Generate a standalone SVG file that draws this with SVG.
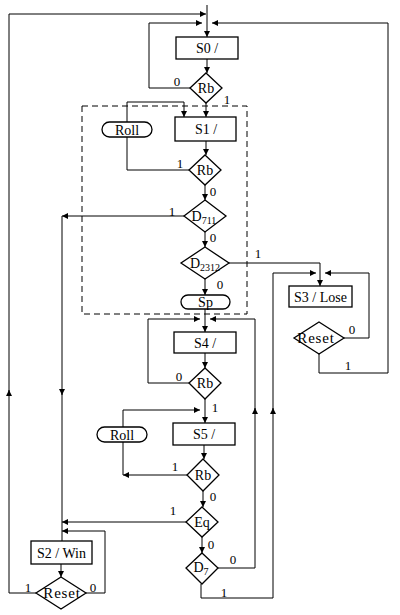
<svg xmlns="http://www.w3.org/2000/svg" width="400" height="615" viewBox="0 0 400 615">
<style>
.bg{fill:#fff}
.n{fill:#fff;stroke:#000;stroke-width:1.3}
.c{fill:none;stroke:#000;stroke-width:1}
.t{font-family:"Liberation Serif","Times New Roman",serif;font-size:14px;fill:#000;text-anchor:middle}
.r{font-size:15px;letter-spacing:0.8px}
.l{font-family:"Liberation Serif","Times New Roman",serif;font-size:13px;fill:#000;text-anchor:middle}
.s{font-size:10px}
.d{fill:none;stroke:#000;stroke-width:1;stroke-dasharray:6,4}
</style>
<defs>
<marker id="a" markerWidth="6" markerHeight="6" refX="6" refY="3" orient="auto" markerUnits="userSpaceOnUse">
<path d="M0,0 L6,3 L0,6 z" fill="#000"/>
</marker>
</defs>
<rect class="bg" x="0" y="0" width="400" height="615"/>
<rect class="d" x="82" y="106" width="165" height="208"/>
<g id="connectors" class="c">
<path d="M36,593 H9 V390" marker-end="url(#a)"/>
<path d="M9,392 V14 H206" marker-end="url(#a)"/>
<path d="M207,5 V37" marker-end="url(#a)"/>
<path d="M190,88 H149 V23 H202" marker-end="url(#a)"/>
<path d="M319,354 V373 H388 V23 H212" marker-end="url(#a)"/>
<path d="M207,59 V73" marker-end="url(#a)"/>
<path d="M206,103 V117" marker-end="url(#a)"/>
<path d="M189,170 H127 V137"/>
<path d="M127,122 V102 H184 V117" marker-end="url(#a)"/>
<path d="M206,141 V155" marker-end="url(#a)"/>
<path d="M205,185 V200" marker-end="url(#a)"/>
<path d="M184,216 H62" marker-end="url(#a)"/>
<path d="M62,216 V395" marker-end="url(#a)"/>
<path d="M62,393 V541"/>
<path d="M205,232 V247" marker-end="url(#a)"/>
<path d="M229,263 H320 V286" marker-end="url(#a)"/>
<path d="M344,338 H369 V273 H325" marker-end="url(#a)"/>
<path d="M201,584 V598 H273 V408" marker-end="url(#a)"/>
<path d="M273,410 V273 H316" marker-end="url(#a)"/>
<path d="M205,279 V295" marker-end="url(#a)"/>
<path d="M205,309 V332" marker-end="url(#a)"/>
<path d="M189,383 H148 V319 H200" marker-end="url(#a)"/>
<path d="M218,568 H255 V408" marker-end="url(#a)"/>
<path d="M255,410 V319 H210" marker-end="url(#a)"/>
<path d="M205,353 V368" marker-end="url(#a)"/>
<path d="M205,399 V423" marker-end="url(#a)"/>
<path d="M187,475 H123" marker-end="url(#a)"/>
<path d="M123,475 V442"/>
<path d="M123,427 V410 H200" marker-end="url(#a)"/>
<path d="M204,445 V459" marker-end="url(#a)"/>
<path d="M203,491 V507" marker-end="url(#a)"/>
<path d="M186,522 H62" marker-end="url(#a)"/>
<path d="M86,593 H105 V531 H62" marker-end="url(#a)"/>
<path d="M202,537 V553" marker-end="url(#a)"/>
<path d="M61,564 V577" marker-end="url(#a)"/>
</g>
<g id="S0"><rect class="n" x="176" y="37" width="62" height="22"/><text class="t" x="207" y="53">S0 /</text></g>
<g id="Rb1"><polygon class="n" points="206,73 222,88 206,103 190,88"/><text class="t" x="206" y="93">Rb</text></g>
<g id="S1"><rect class="n" x="175" y="117" width="61" height="24"/><text class="t" x="206" y="134">S1 /</text></g>
<g id="Roll1"><rect class="n" x="102" y="122" width="50" height="15" rx="7.5"/><text class="t" x="127" y="134.5">Roll</text></g>
<g id="Rb2"><polygon class="n" points="205,155 221,170 205,185 189,170"/><text class="t" x="205" y="175">Rb</text></g>
<g id="D711"><polygon class="n" points="205,200 226,216 205,232 184,216"/><text class="t" x="204" y="220.5">D<tspan class="s" dy="3">711</tspan></text></g>
<g id="D2312"><polygon class="n" points="205,247 229,263 205,279 181,263"/><text class="t" x="205" y="267.5">D<tspan class="s" dy="3">2312</tspan></text></g>
<g id="Sp"><rect class="n" x="181" y="295" width="49" height="14" rx="7"/><text class="t" x="205.5" y="307">Sp</text></g>
<g id="S3"><rect class="n" x="289" y="286" width="63" height="21"/><text class="t" x="320.5" y="301.5">S3 / Lose</text></g>
<g id="Reset1"><polygon class="n" points="319,322 344,338 319,354 294,338"/><text class="t r" x="316" y="343">Reset</text></g>
<g id="S4"><rect class="n" x="174" y="332" width="62" height="21"/><text class="t" x="205" y="347.5">S4 /</text></g>
<g id="Rb3"><polygon class="n" points="205,368 221,383 205,399 189,383"/><text class="t" x="205" y="388">Rb</text></g>
<g id="Roll2"><rect class="n" x="97" y="427" width="50" height="15" rx="7.5"/><text class="t" x="122" y="439.5">Roll</text></g>
<g id="S5"><rect class="n" x="173" y="423" width="62" height="22"/><text class="t" x="204" y="439">S5 /</text></g>
<g id="Rb4"><polygon class="n" points="203,459 219,475 203,491 187,475"/><text class="t" x="203" y="480">Rb</text></g>
<g id="Eq"><polygon class="n" points="202,507 218,522 202,537 186,522"/><text class="t" x="202" y="527">Eq</text></g>
<g id="D7"><polygon class="n" points="202,553 218,568 202,584 186,568"/><text class="t" x="201" y="572">D<tspan class="s" dy="3">7</tspan></text></g>
<g id="S2"><rect class="n" x="31" y="541" width="61" height="23"/><text class="t" x="61.5" y="557.5">S2 / Win</text></g>
<g id="Reset2"><polygon class="n" points="61,577 86,593 61,609 36,593"/><text class="t r" x="62" y="598">Reset</text></g>
<g id="labels">
<text class="l" x="177" y="86">0</text>
<text class="l" x="227" y="104">1</text>
<text class="l" x="180" y="168">1</text>
<text class="l" x="213" y="196">0</text>
<text class="l" x="172" y="216">1</text>
<text class="l" x="213" y="242">0</text>
<text class="l" x="258" y="258">1</text>
<text class="l" x="220" y="289">0</text>
<text class="l" x="352" y="334">0</text>
<text class="l" x="348" y="370">1</text>
<text class="l" x="179" y="381">0</text>
<text class="l" x="215" y="412">1</text>
<text class="l" x="175" y="471">1</text>
<text class="l" x="213" y="501">0</text>
<text class="l" x="173" y="515">1</text>
<text class="l" x="211" y="549">0</text>
<text class="l" x="233" y="564">0</text>
<text class="l" x="224" y="597">1</text>
<text class="l" x="28" y="592">1</text>
<text class="l" x="93" y="592">0</text>
</g>
</svg>
